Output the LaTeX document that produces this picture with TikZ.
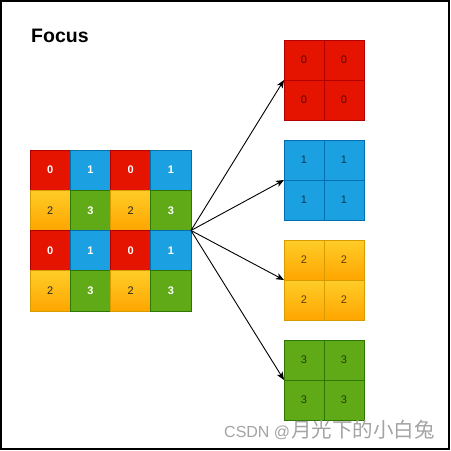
\documentclass[tikz,border=0pt]{standalone}
\usepackage{fontspec}
\setmainfont{Liberation Sans}
\newfontfamily\cjkfont{Noto Sans CJK SC}
\usetikzlibrary{arrows.meta,fit}
\definecolor{cred}{HTML}{E51400}
\definecolor{credd}{HTML}{B20000}
\definecolor{cblue}{HTML}{1BA1E2}
\definecolor{cblued}{HTML}{006EAF}
\definecolor{cyelt}{HTML}{FFCD28}
\definecolor{cyelb}{HTML}{FFA500}
\definecolor{cyeld}{HTML}{D79B00}
\definecolor{cgreen}{HTML}{60A917}
\definecolor{cgreend}{HTML}{2D7600}
\definecolor{wmark}{HTML}{A3A3A3}
\begin{document}
\begin{tikzpicture}[x=1pt,y=-1pt,
  cell/.style={anchor=north west, inner sep=0pt, outer sep=0pt, line width=0.7pt,
    font=\fontsize{11}{13}\selectfont},
  lcell/.style={cell, minimum width=40.25pt, minimum height=40.25pt},
  rcell/.style={cell, minimum width=40pt, minimum height=40pt, text=black, text opacity=0.65},
  fred/.style={fill=cred, draw=credd},
  fblue/.style={fill=cblue, draw=cblued},
  fyel/.style={top color=cyelt, bottom color=cyelb, draw=cyeld},
  fgreen/.style={fill=cgreen, draw=cgreend},
  lred/.style={lcell, fred, text=white, font=\bfseries\fontsize{11}{13}\selectfont},
  lblue/.style={lcell, fblue, text=white, font=\bfseries\fontsize{11}{13}\selectfont},
  lyel/.style={lcell, fyel, text=black!85},
  lgreen/.style={lcell, fgreen, text=white, font=\bfseries\fontsize{11}{13}\selectfont},
  rred/.style={rcell, fred},
  rblue/.style={rcell, fblue},
  ryel/.style={rcell, fyel},
  rgreen/.style={rcell, fgreen},
  grp/.style={inner sep=0pt, outer sep=0pt},
  arr/.style={draw=black, line width=0.9pt, -{Stealth[length=8pt,width=6.5pt,inset=2pt]}}
]
\useasboundingbox (0,0) rectangle (451,451);
\draw[line width=2pt] (1,1) rectangle (449,448.5);

\node[anchor=base west, inner sep=0pt, font=\bfseries\fontsize{19.5}{22}\selectfont] (title) at (31,42.7) {Focus};

% left 4x4 grid
\foreach \r/\sa/\sb/\ta/\tb in {0/lred/lblue/0/1,1/lyel/lgreen/2/3,2/lred/lblue/0/1,3/lyel/lgreen/2/3}{
  \node[\sa] (L\r0) at (30,{150+\r*40.25}) {\ta};
  \node[\sb] (L\r1) at (70.25,{150+\r*40.25}) {\tb};
  \node[\sa] (L\r2) at (110.5,{150+\r*40.25}) {\ta};
  \node[\sb] (L\r3) at (150.75,{150+\r*40.25}) {\tb};
}
\node[grp, fit=(L00)(L33)] (src) {};

% right 2x2 grids
\foreach \g/\sty/\t/\y in {0/rred/0/40,1/rblue/1/140,2/ryel/2/240,3/rgreen/3/340}{
  \node[\sty] (R\g a) at (284,\y) {\t};
  \node[\sty] (R\g b) at (324,\y) {\t};
  \node[\sty] (R\g c) at (284,\y+40) {\t};
  \node[\sty] (R\g d) at (324,\y+40) {\t};
  \node[grp, fit=(R\g a)(R\g d)] (G\g) {};
  \draw[arr] (src.east) -- (G\g.west);
}

\node[anchor=base west, inner sep=0pt, text=wmark] (wm) at (224,437.5)
  {\fontsize{16}{18}\selectfont CSDN @\hspace{1pt}\cjkfont\fontsize{20.5}{22}\selectfont 月光下的小白兔};
\end{tikzpicture}
\end{document}
